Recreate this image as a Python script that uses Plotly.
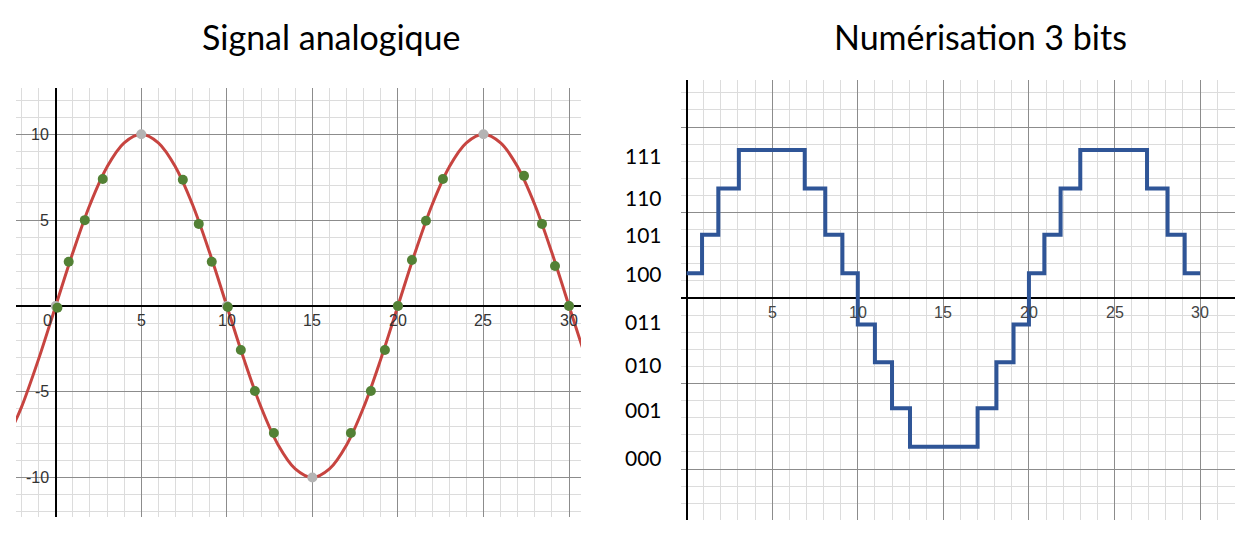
import plotly.graph_objects as go

# --- left chart: analog signal ---
curve_x = [-2.4, -2, -1, 0, 1, 2, 3, 4, 5, 6, 7, 8, 9, 10, 11, 12, 13, 14, 15, 16,
           17, 18, 19, 20, 21, 22, 23, 24, 25, 26, 27, 28, 29, 30, 31]
curve_y = [-6.8, -5.9, -3.1, 0, 3.1, 5.9, 8.1, 9.5, 10, 9.5, 8.1, 5.9, 3.1, 0, -3.1, -5.9,
           -8.1, -9.5, -10, -9.5, -8.1, -5.9, -3.1, 0, 3.1, 5.9, 8.1, 9.5, 10, 9.5, 8.1,
           5.9, 3.1, 0, -3.1]

peak_x = [0, 5, 10, 15, 20, 25, 30]
peak_y = [0, 10, 0, -10, 0, 10, 0]

sample_x = [0.1, 0.76, 1.7, 2.75, 7.43, 8.36, 9.12, 10.06, 10.82, 11.64, 12.75,
            17.25, 18.42, 19.24, 20.0, 20.82, 21.64, 22.63, 27.37, 28.42, 29.18, 30.0]
sample_y = [-0.1, 2.57, 5.0, 7.4, 7.35, 4.78, 2.57, -0.06, -2.57, -4.96, -7.4,
            -7.4, -4.96, -2.57, 0.0, 2.68, 4.96, 7.4, 7.58, 4.78, 2.33, 0.0]

left_xticks = [5, 10, 15, 20, 25, 30]
left_yticks = [10, 5, -5, -10]

# --- right chart: 3-bit quantised signal ---
step_x = [0, 0.9, 1.85, 3.05, 6.9, 8.1, 9.1, 10, 11, 12, 13.05, 17, 18.1, 19.1,
          20, 20.9, 21.85, 23, 26.9, 28.1, 29.1, 30]
step_y = [1.45, 3.7, 6.4, 8.65, 6.4, 3.7, 1.45, -1.55, -3.75, -6.45, -8.7, -6.45,
          -3.75, -1.55, 1.45, 3.7, 6.4, 8.65, 6.4, 3.7, 1.45, 1.45]

code_labels = ['111', '110', '101', '100', '011', '010', '001', '000']
code_label_y = [8.36, 5.86, 3.74, 1.46, -1.4, -3.86, -6.49, -9.3]

right_xticks = [5, 10, 15, 20, 25, 30]

titles = ['Signal analogique', 'Numérisation 3 bits']

RED = '#c74440'
GREEN = '#538135'
BLUE = '#2f5597'
TICK_FONT = dict(family='Liberation Sans, Arial', size=16, color='#333333')

# the page body has an 8px margin, so work in page pixels and shift
W, H, OFF = 1241, 536, 8


def px_x(p):
    return (p - OFF) / W


def px_y(p):
    return 1 - (p - OFF) / H


def grid_axis(rng, domain, anchor):
    return dict(range=rng, domain=domain, anchor=anchor,
                tick0=0, dtick=5, showgrid=True, gridcolor='#8c8c8c', gridwidth=1,
                minor=dict(tick0=0, dtick=1, showgrid=True, gridcolor='#dcdcdc', gridwidth=1),
                zeroline=True, zerolinecolor='black', zerolinewidth=2,
                showticklabels=False, ticks='', showline=False, fixedrange=True)


fig = go.Figure()

fig.add_trace(go.Scatter(x=curve_x, y=curve_y, mode='lines', line=dict(color=RED, width=3, shape='spline'),
                         xaxis='x', yaxis='y', hoverinfo='skip'))
fig.add_trace(go.Scatter(x=peak_x, y=peak_y, mode='markers', marker=dict(color='#b4b4b4', size=10),
                         xaxis='x', yaxis='y'))
fig.add_trace(go.Scatter(x=sample_x, y=sample_y, mode='markers', marker=dict(color=GREEN, size=10),
                         xaxis='x', yaxis='y'))

fig.add_trace(go.Scatter(x=step_x, y=step_y, mode='lines', line=dict(color=BLUE, width=4, shape='hv'),
                         xaxis='x2', yaxis='y2'))

annotations = []
# left chart tick labels beside the axes (Desmos style)
for v in left_xticks:
    annotations.append(dict(x=v, y=0, xref='x', yref='y', text=str(v), showarrow=False,
                            yanchor='top', yshift=-4, font=TICK_FONT))
annotations.append(dict(x=0, y=0, xref='x', yref='y', text='0', showarrow=False,
                        xanchor='right', yanchor='top', xshift=-2, yshift=-4, font=TICK_FONT))
for v in left_yticks:
    annotations.append(dict(x=0, y=v, xref='x', yref='y', text=str(v), showarrow=False,
                            xanchor='right', xshift=-5, font=TICK_FONT))

# right chart tick labels
for v in right_xticks:
    annotations.append(dict(x=v, y=0, xref='x2', yref='y2', text=str(v), showarrow=False,
                            yanchor='top', yshift=-4, font=dict(TICK_FONT, color='#444444')))
for lab, v in zip(code_labels, code_label_y):
    annotations.append(dict(x=0, y=v, xref='x2', yref='y2', text=lab, showarrow=False,
                            xanchor='right', xshift=-23,
                            font=dict(family='Lato, Carlito, sans-serif', size=21, color='black')))

# titles
for t, cx in zip(titles, [331, 980]):
    annotations.append(dict(x=px_x(cx), y=px_y(37), xref='paper', yref='paper', text=t,
                            xanchor='center', yanchor='middle', showarrow=False,
                            font=dict(family='Lato, sans-serif', size=34, color='black')))

fig.update_layout(
    width=W, height=H,
    margin=dict(l=0, r=0, t=0, b=0),
    paper_bgcolor='white', plot_bgcolor='white',
    showlegend=False,
    xaxis=grid_axis([-2.32, 30.7], [px_x(16), px_x(581)], 'y'),
    yaxis=grid_axis([-12.3, 12.7], [px_y(517), px_y(88)], 'x'),
    xaxis2=grid_axis([-0.33, 32.04], [px_x(681), px_x(1235)], 'y2'),
    yaxis2=grid_axis([-12.98, 12.75], [px_y(520), px_y(80)], 'x2'),
    annotations=annotations,
)

fig.write_html("out.html", config=dict(displayModeBar=False))
